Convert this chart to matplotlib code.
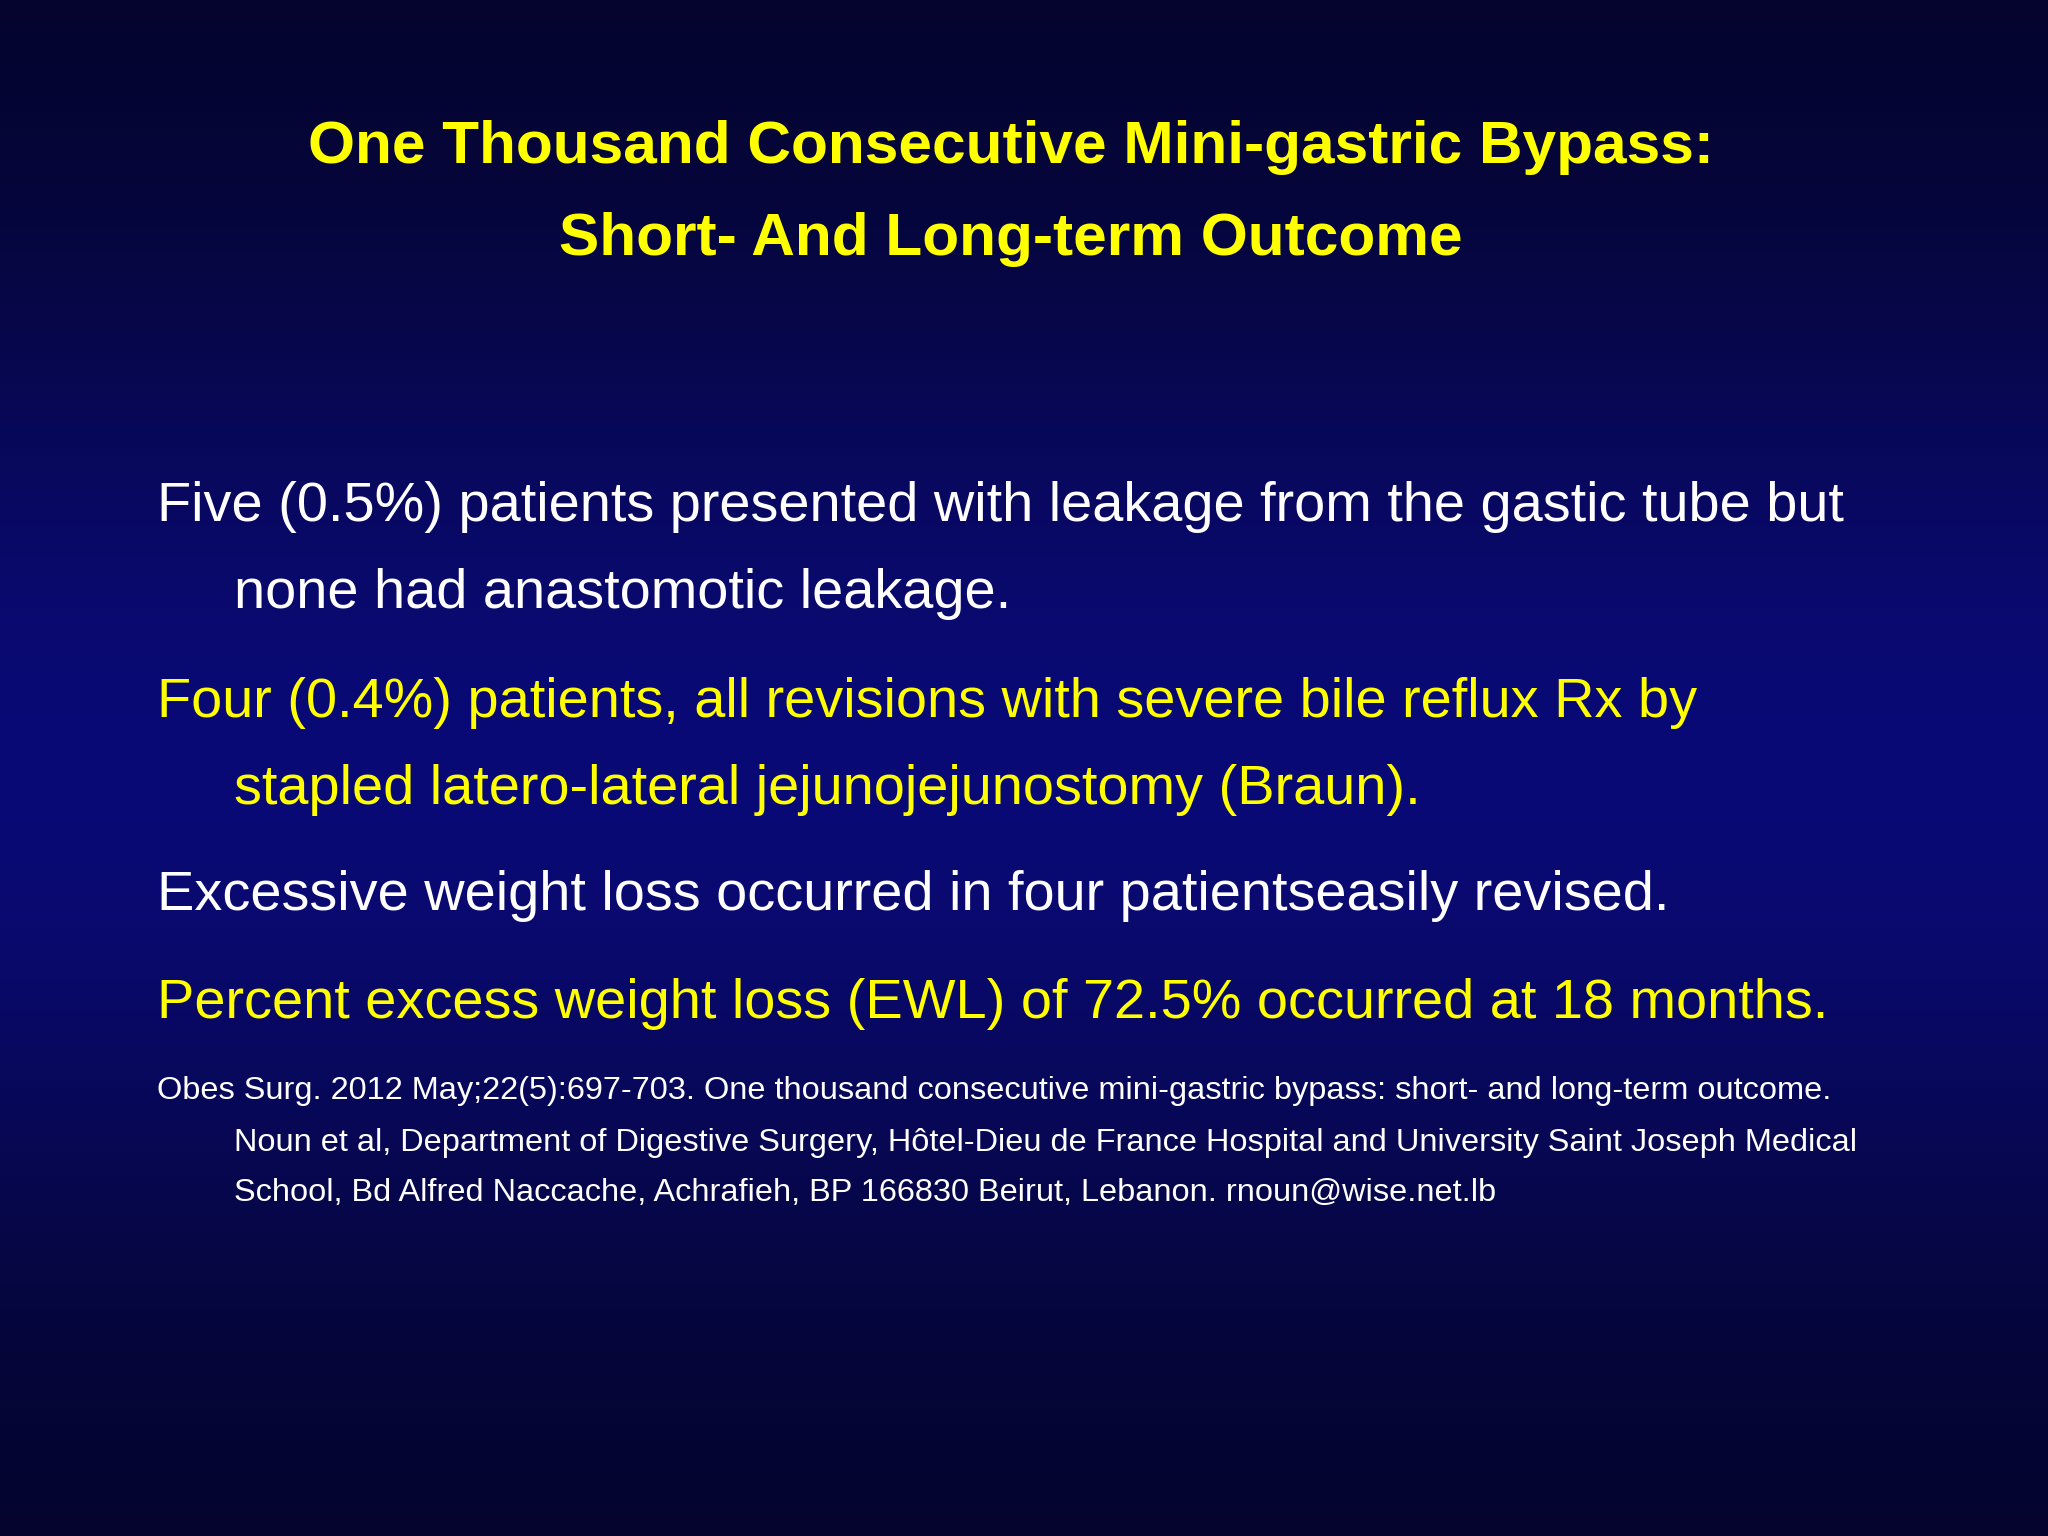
import numpy as np
import matplotlib
matplotlib.use("Agg")
import matplotlib.pyplot as plt
from matplotlib import font_manager

title_lines = ["One Thousand Consecutive Mini-gastric Bypass:", "Short- And Long-term Outcome"]
body_lines = [
    ("Five (0.5%) patients presented with leakage from the gastic tube but", 0, "white"),
    ("none had anastomotic leakage.", 1, "white"),
    ("Four (0.4%) patients, all revisions with severe bile reflux Rx by", 0, "yellow"),
    ("stapled latero-lateral jejunojejunostomy (Braun).", 1, "yellow"),
    ("Excessive weight loss occurred in four patientseasily revised.", 0, "white"),
    ("Percent excess weight loss (EWL) of 72.5% occurred at 18 months.", 0, "yellow"),
]
body_y = [388, 455, 538, 605, 686, 769]
cite_lines = [
    ("Obes Surg. 2012 May;22(5):697-703. One thousand consecutive mini-gastric bypass: short- and long-term outcome.", 0),
    ("Noun et al, Department of Digestive Surgery, H\u00f4tel-Dieu de France Hospital and University Saint Joseph Medical", 1),
    ("School, Bd Alfred Naccache, Achrafieh, BP 166830 Beirut, Lebanon. rnoun@wise.net.lb", 1),
]
cite_y = [835, 875, 913]

names = {f.name for f in font_manager.fontManager.ttflist}
fam = "Liberation Sans Narrow" if "Liberation Sans Narrow" in names else "Liberation Sans"
narrow = fam == "Liberation Sans Narrow"
st, sb, sc_ = (1.0, 1.0, 1.0) if narrow else (0.87, 0.875, 0.9)

fig = plt.figure(figsize=(20.48, 15.36), dpi=100)
bg = fig.add_axes([0, 0, 1, 1])
t = np.linspace(0, 1, 400)
prof = np.exp(-((t - 0.5) / 0.32) ** 2)
c0 = np.array([4, 4, 40]) / 255
c1 = np.array([10, 10, 118]) / 255
img = c0[None, :] + (c1 - c0)[None, :] * prof[:, None]
bg.imshow(np.repeat(img[:, None, :], 2, axis=1), aspect="auto", extent=[0, 1, 0, 1])
bg.axis("off")

H = 1176.0; W = 1568.0
Y = "#ffff00"
for i, s in enumerate(title_lines):
    fig.text(774 / W, 1 - [113, 183][i] / H, s, ha="center", va="center", color=Y,
             fontsize=50 * st, fontweight="bold", family=fam)
for (s, ind, col), y in zip(body_lines, body_y):
    fig.text((179 if ind else 120) / W, 1 - y / H, s, ha="left", va="center",
             color=Y if col == "yellow" else "white", fontsize=46 * sb, family=fam)
for (s, ind), y in zip(cite_lines, cite_y):
    fig.text((179 if ind else 120) / W, 1 - y / H, s, ha="left", va="center",
             color="white", fontsize=26 * sc_, family=fam)

fig.savefig("out.png", dpi=100)
